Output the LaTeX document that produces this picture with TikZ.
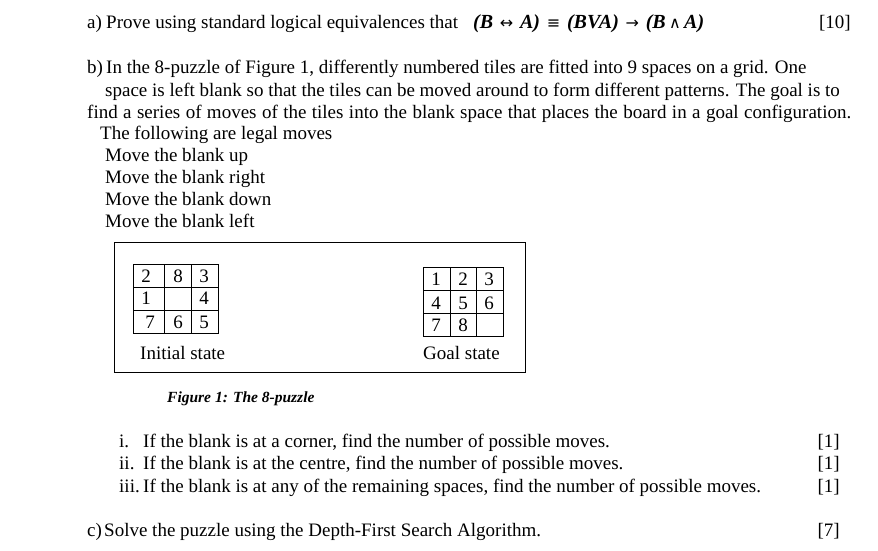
\documentclass[tikz,border=0pt]{standalone}
\usepackage{fontspec}
\setmainfont{Liberation Serif}
\newfontfamily\symfont{DejaVu Sans}
\usepackage{tikz}
\tikzset{
	line/.style={anchor=base west,inner sep=0pt,font=\fontsize{19}{22}\selectfont},
	digit/.style={inner sep=0pt,font=\fontsize{19}{22}\selectfont},
	marks/.style={anchor=base east,inner sep=0pt,font=\fontsize{19}{22}\selectfont},
	figtitle/.style={anchor=base west,inner sep=0pt,font=\fontsize{15.5}{18}\selectfont\bfseries\itshape},
	tiles/.style={line width=0.7pt}
}
\newcommand{\sym}[1]{{\symfont\mdseries\upshape\fontsize{16}{18}\selectfont #1}}
\newcommand{\lab}[2]{\makebox[#1pt][l]{#2}}
\begin{document}
\begin{tikzpicture}[x=1pt,y=-1pt]
	\useasboundingbox (0,0) rectangle (878,551);
	\node[line] (parta) at (87,29) {\lab{19}{a)}Prove using standard logical equivalences that};
	\node[line] (formula) at (473,29) {\fontsize{20}{22}\selectfont\bfseries\itshape\makebox[231pt][s]{(B \sym{↔} A) \sym{≡} (BVA) \sym{→} (B\,\sym{∧}\,A)}};
	\node[marks] (marka) at (851,29) {[10]};
	\node[line] (b1) at (87,74) {\lab{19}{b)}In the 8-puzzle of Figure 1, differently numbered tiles are fitted into 9 spaces on a grid. One};
	\node[line] (b2) at (105,96) {space is left blank so that the tiles can be moved around to form different patterns. The goal is to};
	\node[line] (b3) at (87,118) {\makebox[764pt][s]{find a series of moves of the tiles into the blank space that places the board in a goal configuration.}};
	\node[line] (b4) at (100,139) {The following are legal moves};
	\node[line] (up) at (105,161) {Move the blank up};
	\node[line] (right) at (105,183) {Move the blank right};
	\node[line] (down) at (105,205) {Move the blank down};
	\node[line] (left) at (105,227) {Move the blank left};
	% figure box
	\draw[line width=1pt] (114,242) rectangle (525,372);
	% initial state
	\draw[tiles] (133,264) rectangle (218,333);
	\draw[tiles] (164,264) -- (164,333) (191,264) -- (191,333);
	\draw[tiles] (133,287) -- (218,287) (133,310) -- (218,310);
	\foreach \x/\y/\t in {146/276/2,178/276/8,204/276/3,146/298/1,204/298/4,150/322/7,178/322/6,204/322/5}
		\node[digit] (init\t) at (\x,\y) {\t};
	% goal state
	\draw[tiles] (423,267) rectangle (503,336);
	\draw[tiles] (450,267) -- (450,336) (476,267) -- (476,336);
	\draw[tiles] (423,290) -- (503,290) (423,313) -- (503,313);
	\foreach \x/\y/\t in {436/279/1,463/279/2,489/279/3,436/303/4,463/303/5,489/303/6,436/325/7,463/325/8}
		\node[digit] (goal\t) at (\x,\y) {\t};
	\node[line] (initial) at (140,359) {Initial state};
	\node[line] (goal) at (423,359) {Goal state};
	\node[figtitle] (caption) at (167,402) {Figure 1: The 8-puzzle};
	\node[line] (i) at (119,447) {\lab{24}{i.}If the blank is at a corner, find the number of possible moves.};
	\node[line] (ii) at (119,469) {\lab{24}{ii.}If the blank is at the centre, find the number of possible moves.};
	\node[line] (iii) at (119,492) {\lab{24}{iii.}If the blank is at any of the remaining spaces, find the number of possible moves.};
	\node[marks] (marki) at (840,447) {[1]};
	\node[marks] (markii) at (840,469) {[1]};
	\node[marks] (markiii) at (840,492) {[1]};
	\node[line] (partc) at (87,536) {\lab{17}{c)}Solve the puzzle using the Depth-First Search Algorithm.};
	\node[marks] (markc) at (840,536) {[7]};
\end{tikzpicture}
\end{document}
